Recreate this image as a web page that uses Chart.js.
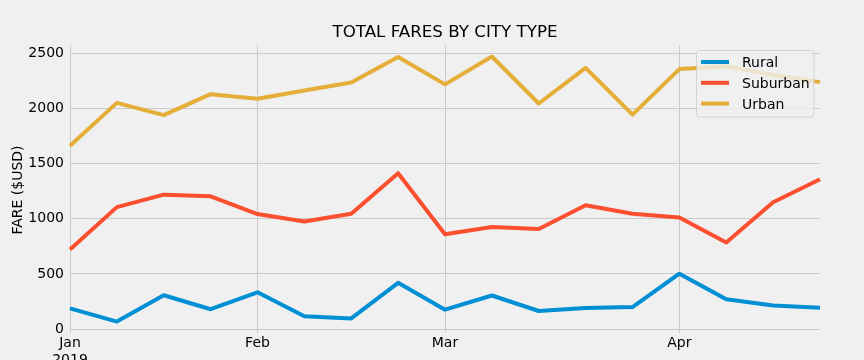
<!DOCTYPE html>
<html>
<head>
<meta charset="utf-8">
<script src="https://cdn.jsdelivr.net/npm/chart.js@4"></script>
<style>
  html, body { margin: 0; padding: 0; background: #f0f0f0; }
  #wrap { width: 864px; height: 360px; }
</style>
</head>
<body>
<div id="wrap"><canvas id="chart" width="864" height="360"></canvas></div>
<script>
const weeks = ["2019-01-06", "2019-01-13", "2019-01-20", "2019-01-27", "2019-02-03", "2019-02-10",
    "2019-02-17", "2019-02-24", "2019-03-03", "2019-03-10", "2019-03-17", "2019-03-24",
    "2019-03-31", "2019-04-07", "2019-04-14", "2019-04-21", "2019-04-28"];
const rural = [187.92, 67.65, 306.0, 179.69, 333.08, 115.8, 95.82, 419.06, 175.14, 303.94,
    163.39, 189.76, 199.42, 501.24, 269.79, 214.14, 191.85];
const suburban = [721.6, 1105.13, 1218.2, 1203.28, 1042.79, 974.34, 1045.5, 1412.74, 858.46,
    925.27, 906.2, 1122.2, 1045.06, 1010.73, 784.82, 1149.27, 1357.75];
const urban = [1661.68, 2050.43, 1939.02, 2129.51, 2086.94, 2162.64, 2235.07, 2466.29, 2218.2,
    2470.93, 2044.42, 2368.37, 1943.9, 2356.7, 2381.0, 2303.8, 2238.29];
const seriesNames = ["Rural", "Suburban", "Urban"];
const seriesColors = ["#008fd5", "#fc4f30", "#e5ae38"];
const xTickIndex = [0, 4, 8, 13];
const xTickText = [["Jan", "2019"], "Feb", "Mar", "Apr"];
const yTicks = [0, 500, 1000, 1500, 2000, 2500];

const FONT = "'DejaVu Sans', sans-serif";


function drawLegend(ctx) {
    ctx.save();
    ctx.beginPath();
    ctx.roundRect(696.5, 50.5, 117.5, 66.5, 3);
    ctx.fillStyle = "rgba(240,240,240,0.8)";
    ctx.fill();
    ctx.strokeStyle = "rgba(204,204,204,0.8)";
    ctx.lineWidth = 1;
    ctx.stroke();

    ctx.font = "14px " + FONT;
    ctx.textBaseline = "alphabetic";
    for (let i = 0; i < seriesNames.length; i++) {
        const y = 62 + i * 20.8;
        ctx.strokeStyle = seriesColors[i];
        ctx.lineWidth = 4;
        ctx.beginPath();
        ctx.moveTo(701, y);
        ctx.lineTo(729, y);
        ctx.stroke();
        ctx.fillStyle = "#000";
        ctx.fillText(seriesNames[i], 742, y + 5);
    }
    ctx.restore();
}


const textPlugin = {
    id: "textPlugin",
    afterDraw(chart) {
        const ctx = chart.ctx;
        ctx.save();
        ctx.fillStyle = "#000";
        ctx.font = "16.7px " + FONT;
        ctx.textAlign = "center";
        ctx.textBaseline = "alphabetic";
        ctx.fillText("TOTAL FARES BY CITY TYPE", (chart.chartArea.left + chart.chartArea.right) / 2, 36.8);

        ctx.font = "14px " + FONT;
        ctx.translate(18, 190);
        ctx.rotate(-Math.PI / 2);
        ctx.textBaseline = "middle";
        ctx.fillText("FARE ($USD)", 0, 0);
        ctx.restore();

        drawLegend(ctx);
    }
};


const datasets = [rural, suburban, urban].map((values, i) => ({
    label: seriesNames[i],
    data: values,
    borderColor: seriesColors[i],
    backgroundColor: seriesColors[i],
    borderWidth: 4,
    pointRadius: 0,
    tension: 0,
    borderJoinStyle: "round"
}));

new Chart(document.getElementById("chart"), {
    type: "line",
    data: { labels: weeks, datasets: datasets },
    plugins: [textPlugin],
    options: {
        responsive: false,
        animation: false,
        layout: { padding: { top: 45, right: 44, left: 0, bottom: 0 } },
        plugins: {
            legend: { display: false },
            title: { display: false },
            tooltip: { enabled: false }
        },
        scales: {
            x: {
                type: "category",
                offset: false,
                border: { display: false },
                grid: {
                    drawTicks: false,
                    color: (c) => xTickIndex.includes(c.index) ? "#cbcbcb" : "rgba(0,0,0,0)",
                    lineWidth: 1
                },
                ticks: {
                    autoSkip: false,
                    maxRotation: 0,
                    padding: 2,
                    color: "#000",
                    font: { family: FONT, size: 14 },
                    callback: (value, index) => {
                        const k = xTickIndex.indexOf(index);
                        return k >= 0 ? xTickText[k] : "";
                    }
                },
                afterFit: (scale) => { scale.height = 27; }
            },
            y: {
                min: -36,
                max: 2575,
                border: { display: false },
                grid: { drawTicks: false, color: "#cbcbcb", lineWidth: 1 },
                ticks: {
                    padding: 6,
                    color: "#000",
                    font: { family: FONT, size: 14 },
                    callback: (value) => String(value)
                },
                afterBuildTicks: (scale) => { scale.ticks = yTicks.map(v => ({ value: v })); },
                afterFit: (scale) => { scale.width = 70; }
            }
        }
    }
});
</script>
</body>
</html>
